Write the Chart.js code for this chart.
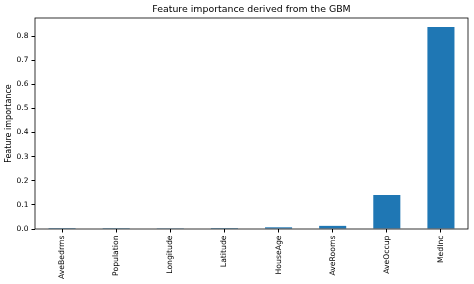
<!DOCTYPE html>
<html>
<head>
<meta charset="utf-8">
<script src="https://cdn.jsdelivr.net/npm/chart.js@4"></script>
<style>
  body { margin: 0; background: #fff; }
  #wrap { width: 474px; height: 284px; }
</style>
</head>
<body>
<div id="wrap"><canvas id="chart" width="474" height="284"></canvas></div>
<script>
var features = ["AveBedrms", "Population", "Longitude", "Latitude", "HouseAge", "AveRooms", "AveOccup", "MedInc"];
var importance = [0.0003, 0.0005, 0.001, 0.004, 0.007, 0.013, 0.141, 0.838];
var yTicks = [0, 0.1, 0.2, 0.3, 0.4, 0.5, 0.6, 0.7, 0.8];
var chartTitle = 'Feature importance derived from the GBM';

Chart.defaults.font.family = "'DejaVu Sans', sans-serif";
Chart.defaults.color = "#000";

// matplotlib style box round the axes, title centred over the axes
var frame = {
    id: 'frame',
    afterDraw: function(chart) {
        var a = chart.chartArea;
        var ctx = chart.ctx;
        ctx.save();
        ctx.strokeStyle = '#000';
        ctx.lineWidth = 0.8;
        ctx.strokeRect(a.left, a.top, a.right - a.left, a.bottom - a.top);
        ctx.fillStyle = '#000';
        ctx.font = "9.4px 'DejaVu Sans', sans-serif";
        ctx.textAlign = 'center';
        ctx.textBaseline = 'middle';
        ctx.fillText(chartTitle, (a.left + a.right) / 2, 10);
        ctx.restore();
    }
};

new Chart(document.getElementById('chart').getContext('2d'), {
    type: 'bar',
    data: {
        labels: features,
        datasets: [{
            data: importance,
            backgroundColor: '#1f77b4',
            barPercentage: 0.5,
            categoryPercentage: 1.0
        }]
    },
    options: {
        responsive: false,
        animation: false,
        layout: { padding: { top: 18, right: 6, left: 0, bottom: 0 } },
        plugins: {
            legend: { display: false },
            tooltip: { enabled: false },
            title: { display: false }
        },
        scales: {
            x: {
                grid: { display: true, offset: false, drawOnChartArea: false, tickLength: 3.5, color: '#000' },
                border: { display: false },
                ticks: { minRotation: 90, maxRotation: 90, font: { size: 7.7 }, padding: 3 },
                afterFit: function(s) { s.height = 55; }
            },
            y: {
                min: 0,
                max: 0.875,
                afterBuildTicks: function(s) { s.ticks = yTicks.map(function(v) { return { value: v }; }); },
                grid: { display: true, drawOnChartArea: false, tickLength: 3.5, color: '#000' },
                border: { display: false },
                ticks: { font: { size: 7.5 }, padding: 3, callback: function(v) { return v.toFixed(1); } },
                title: { display: true, text: 'Feature importance', font: { size: 8 }, padding: { top: 4, bottom: 0 } },
                afterFit: function(s) { s.width = 35; }
            }
        }
    },
    plugins: [frame]
});
</script>
</body>
</html>
